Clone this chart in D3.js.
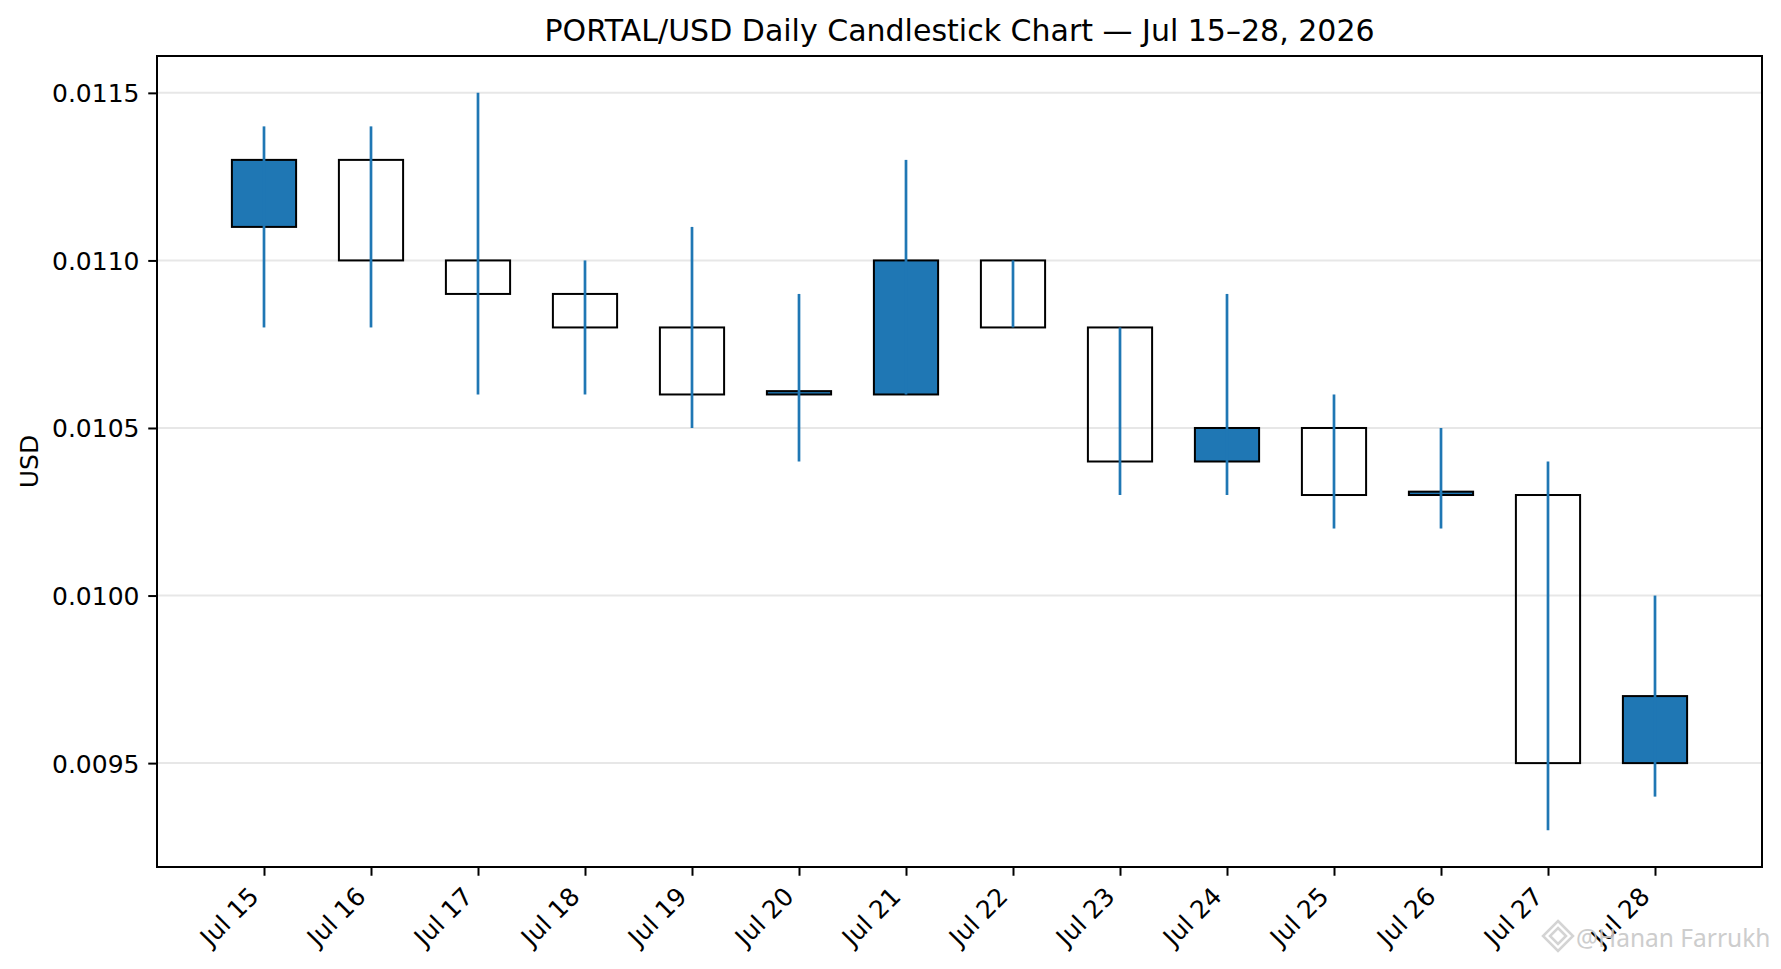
<!DOCTYPE html>
<html>
<head>
<meta charset="utf-8">
<script src="https://cdn.jsdelivr.net/npm/d3@7"></script>
<style>
  html, body { margin: 0; padding: 0; background: #fff; }
  svg { display: block; font-family: "DejaVu Sans", sans-serif; }
</style>
</head>
<body>
<svg id="chart" width="1781" height="969"></svg>
<script>
// ---- data ----
const dates = ["Jul 15","Jul 16","Jul 17","Jul 18","Jul 19","Jul 20","Jul 21",
               "Jul 22","Jul 23","Jul 24","Jul 25","Jul 26","Jul 27","Jul 28"];
const openVals  = [0.0111, 0.0113, 0.0110, 0.0109, 0.0108, 0.0106, 0.0106,
                   0.0110, 0.0108, 0.0104, 0.0105, 0.0103, 0.0103, 0.0095];
const closeVals = [0.0113, 0.0110, 0.0109, 0.0108, 0.0106, 0.01061, 0.0110,
                   0.0108, 0.0104, 0.0105, 0.0103, 0.01031, 0.0095, 0.0097];
const highVals  = [0.0114, 0.0114, 0.0115, 0.0110, 0.0111, 0.0109, 0.0113,
                   0.0110, 0.0108, 0.0109, 0.0106, 0.0105, 0.0104, 0.0100];
const lowVals   = [0.0108, 0.0108, 0.0106, 0.0106, 0.0105, 0.0104, 0.0106,
                   0.0108, 0.0103, 0.0103, 0.0102, 0.0102, 0.0093, 0.0094];
const yTicks = [0.0095, 0.0100, 0.0105, 0.0110, 0.0115];
const titleText = "PORTAL/USD Daily Candlestick Chart \u2014 Jul 15\u201328, 2026";
const yLabel = "USD";
const watermark = "@Hanan Farrukh";

const candles = dates.map((d, i) => ({
  i, date: d, open: openVals[i], close: closeVals[i], high: highVals[i], low: lowVals[i]
}));

// ---- layout ----
const L = 157, R = 1762, T = 56, B = 867;
const svg = d3.select("#chart");

const x = d3.scaleLinear().domain([-1, dates.length]).range([L, R]);
const yMin = d3.min(lowVals), yMax = d3.max(highVals);
const pad = (yMax - yMin) * 0.05;
const y = d3.scaleLinear().domain([yMin - pad, yMax + pad]).range([B, T]);

const bodyW = x(0.6) - x(0);
const blue = "#1f77b4";

// grid
svg.append("g").selectAll("line").data(yTicks).join("line")
  .attr("x1", L).attr("x2", R)
  .attr("y1", d => y(d)).attr("y2", d => y(d))
  .attr("stroke", "#e7e7e7").attr("stroke-width", 2);

// bodies
svg.append("g").selectAll("rect").data(candles).join("rect")
  .attr("x", d => x(d.i) - bodyW / 2)
  .attr("width", bodyW)
  .attr("y", d => y(Math.max(d.open, d.close)))
  .attr("height", d => Math.abs(y(d.open) - y(d.close)))
  .attr("fill", d => d.close >= d.open ? blue : "none")
  .attr("stroke", "#000").attr("stroke-width", 2);

// wicks
svg.append("g").selectAll("line").data(candles).join("line")
  .attr("x1", d => x(d.i)).attr("x2", d => x(d.i))
  .attr("y1", d => y(d.high)).attr("y2", d => y(d.low))
  .attr("stroke", blue).attr("stroke-width", 2.7);

// axes
const tickLen = 8.75, tickPad = 8.75, fs = 25;
const yAxis = svg.append("g").attr("transform", `translate(${L},0)`)
  .call(d3.axisLeft(y).tickValues(yTicks).tickFormat(d3.format(".4f"))
        .tickSize(tickLen).tickPadding(tickPad));
yAxis.select(".domain").remove();
yAxis.selectAll(".tick line").attr("stroke", "#000").attr("stroke-width", 2);
yAxis.selectAll(".tick text").attr("font-size", fs).attr("font-family", "DejaVu Sans")
  .attr("fill", "#000").attr("dy", "0.36em");

const xAxis = svg.append("g").attr("transform", `translate(0,${B})`)
  .call(d3.axisBottom(x).tickValues(d3.range(dates.length)).tickFormat(i => dates[i])
        .tickSize(tickLen).tickPadding(tickPad));
xAxis.select(".domain").remove();
xAxis.selectAll(".tick line").attr("stroke", "#000").attr("stroke-width", 2);
const A = 0.76 * fs, D = 0.24 * fs;
xAxis.selectAll(".tick text")
  .attr("font-size", fs).attr("font-family", "DejaVu Sans").attr("fill", "#000")
  .attr("y", null).attr("dy", null)
  .attr("text-anchor", "end")
  .attr("transform", `translate(${-0.707 * D},${tickLen + tickPad + 0.707 * A}) rotate(-45)`);

// frame
svg.append("rect").attr("x", L).attr("y", T).attr("width", R - L).attr("height", B - T)
  .attr("fill", "none").attr("stroke", "#000").attr("stroke-width", 2);

// title
svg.append("text").attr("x", (L + R) / 2).attr("y", T - 15)
  .attr("text-anchor", "middle").attr("font-size", 30).attr("fill", "#000")
  .text(titleText);

// y label
svg.append("text").attr("transform", `translate(38,${(T + B) / 2}) rotate(-90)`)
  .attr("text-anchor", "middle").attr("font-size", fs).attr("fill", "#000")
  .text(yLabel);

// watermark
const wm = svg.append("g").attr("opacity", 0.9);
wm.append("path")
  .attr("d", "M1558,921 L1573,936 L1558,951 L1543,936 Z M1558,928 L1566,936 L1558,944 L1550,936 Z")
  .attr("fill", "none").attr("stroke", "#d0d0d0").attr("stroke-width", 2.5);
wm.append("text").attr("x", 1576).attr("y", 947)
  .attr("font-family", "Noto Sans, sans-serif").attr("font-size", 24.5)
  .attr("fill", "#c8c8c8").text(watermark);
</script>
</body>
</html>
